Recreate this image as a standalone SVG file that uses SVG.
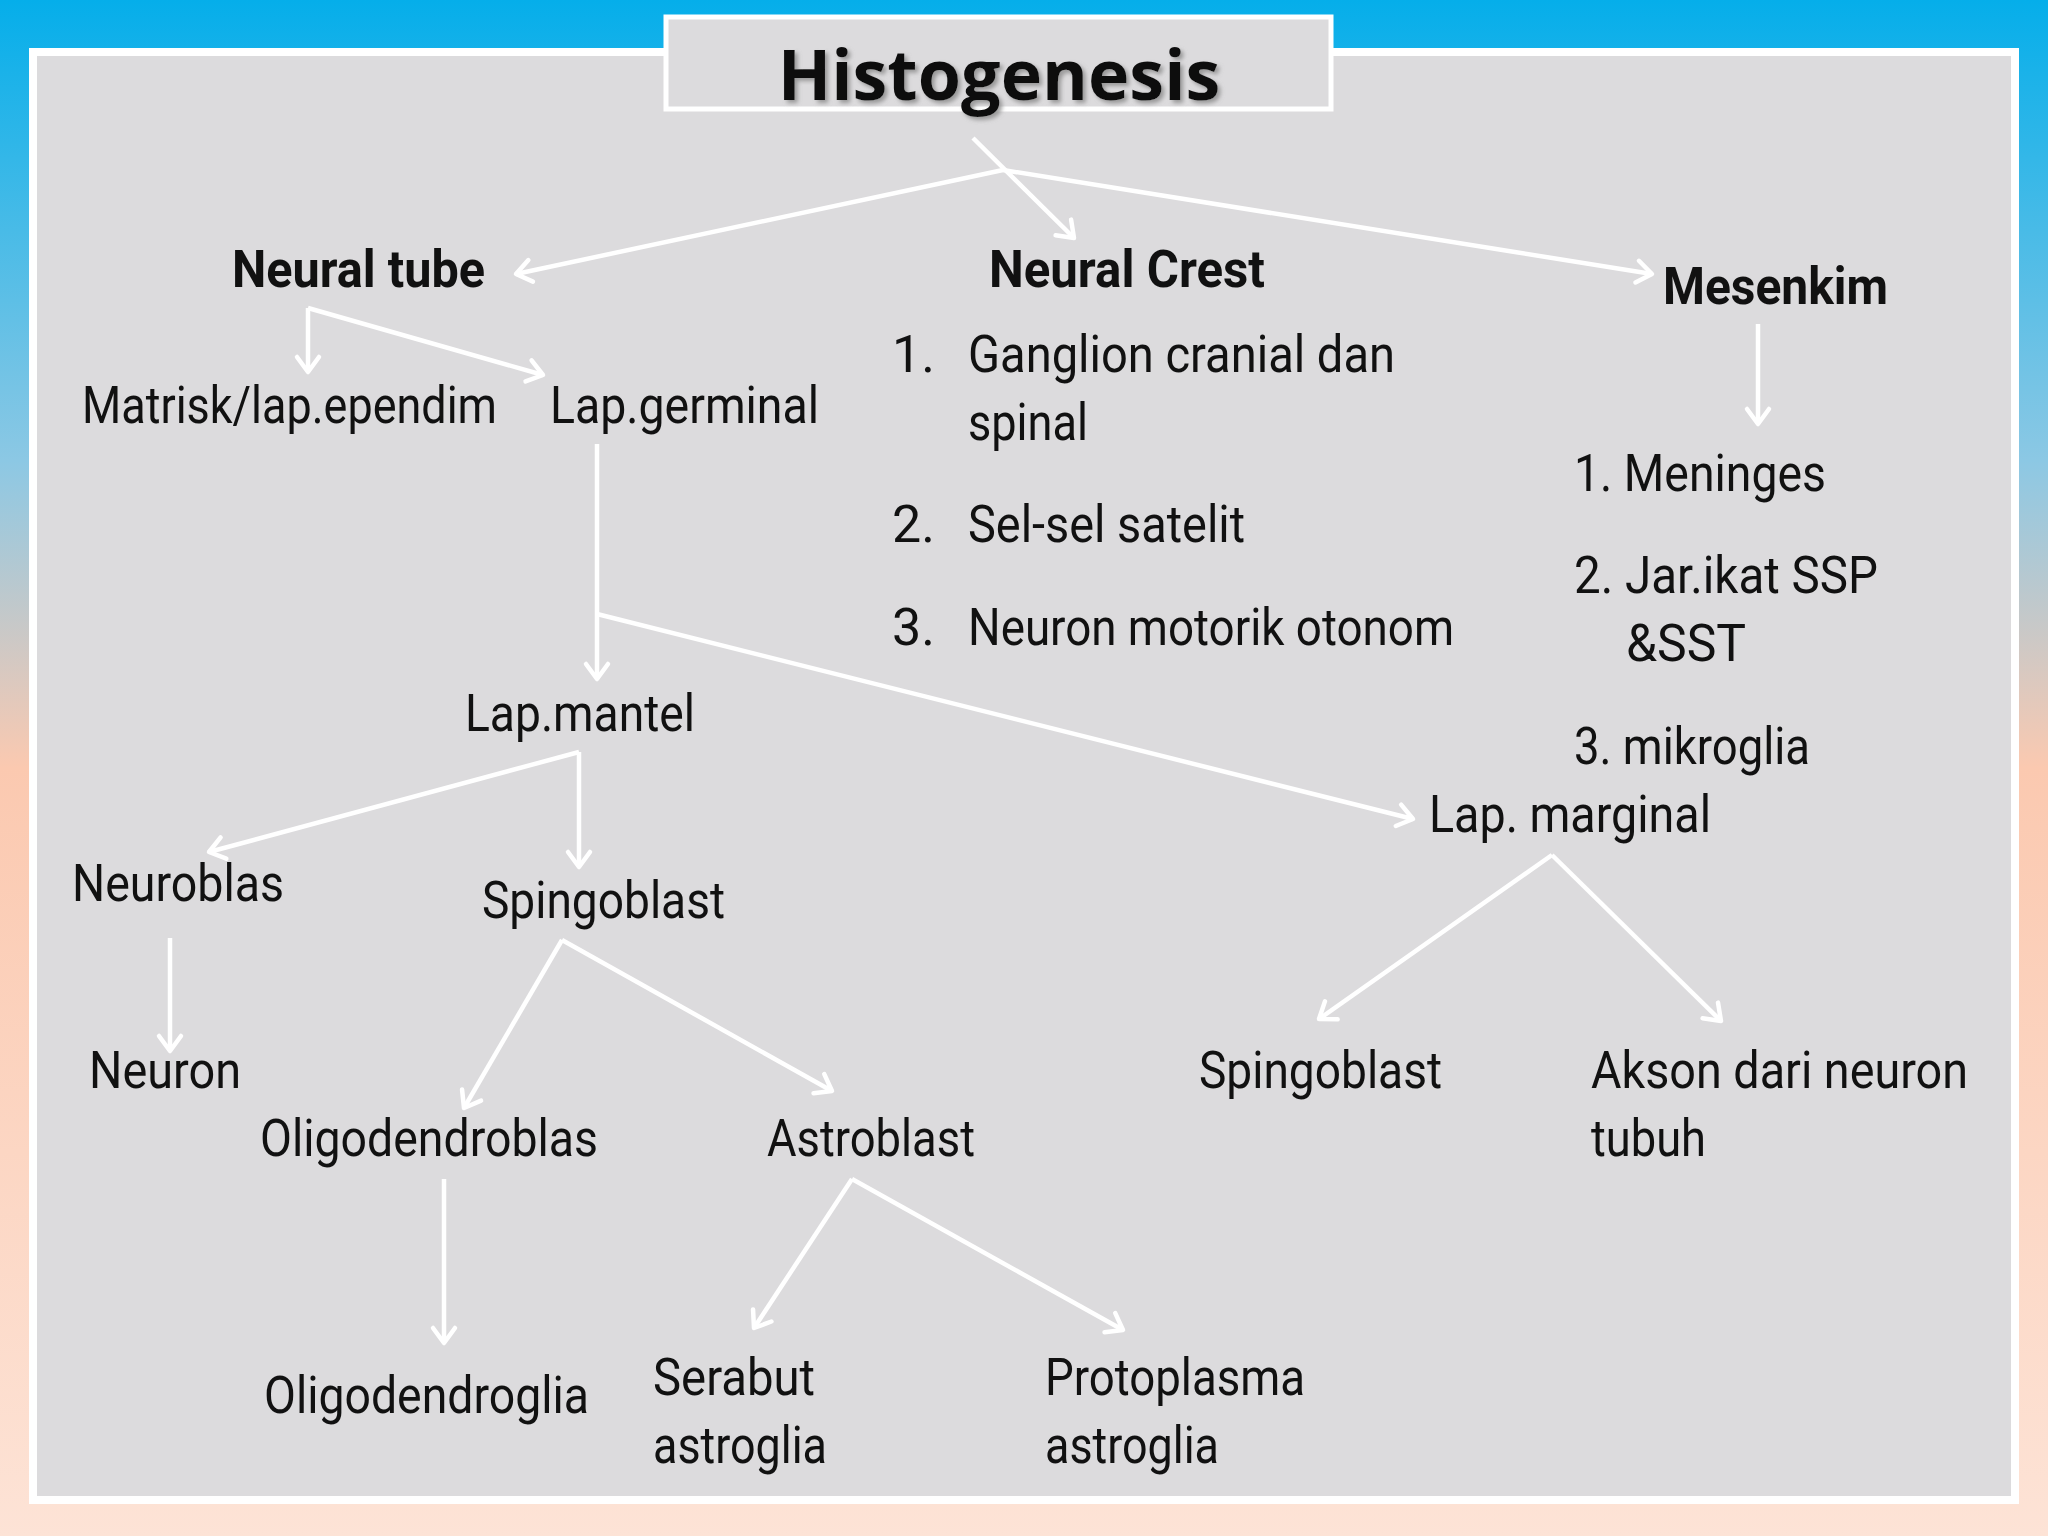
<svg xmlns="http://www.w3.org/2000/svg" width="2048" height="1536" viewBox="0 0 2048 1536">
<defs>
<linearGradient id="bg" x1="0" y1="0" x2="0" y2="1">
<stop offset="0" stop-color="#05aeea"/><stop offset="0.3" stop-color="#8cc8e4"/><stop offset="0.5" stop-color="#fbc9b0"/><stop offset="1" stop-color="#fde3d6"/>
</linearGradient>
<marker id="ah" markerUnits="userSpaceOnUse" markerWidth="40" markerHeight="40" viewBox="-20 -20 40 40" refX="0" refY="0" orient="auto">
<path d="M-15,-11 L0,0 L-15,11" fill="none" stroke="#fff" stroke-width="4.5" stroke-linecap="round" stroke-linejoin="round"/>
</marker>
<filter id="sh"><feDropShadow dx="3" dy="3" stdDeviation="2" flood-color="#888" flood-opacity="0.8"/></filter>
</defs>
<style>
text{font-family:"Roboto","Liberation Sans",sans-serif;font-size:52px;fill:#111}
.b{font-weight:bold}
#connectors line{stroke:#fff;stroke-width:4.5;marker-end:url(#ah)}
#connectors line.n{marker-end:none}
</style>
<rect width="2048" height="1536" fill="url(#bg)"/>
<rect x="33" y="52" width="1982" height="1448" fill="#dcdbdd" stroke="#fff" stroke-width="8"/>
<g id="title">
<rect x="666" y="17" width="665" height="92" fill="#dcdbdd" stroke="#fff" stroke-width="5"/>
<text x="999" y="100" text-anchor="middle" style="font-family:'Open Sans','Liberation Sans',sans-serif;font-size:70px;font-weight:bold" filter="url(#sh)">Histogenesis</text>
</g>
<g id="connectors">
<line x1="973" y1="138" x2="1074" y2="238"/>
<line x1="1003" y1="170" x2="516" y2="274"/>
<line x1="1003" y1="170" x2="1652" y2="274"/>
<line x1="308" y1="308" x2="308" y2="372"/>
<line x1="308" y1="308" x2="543" y2="375"/>
<line x1="1758" y1="324" x2="1758" y2="424"/>
<line x1="597" y1="444" x2="597" y2="679"/>
<line x1="597" y1="614" x2="1413" y2="819"/>
<line x1="579" y1="752" x2="209" y2="852"/>
<line x1="579" y1="752" x2="579" y2="867"/>
<line x1="170" y1="938" x2="170" y2="1051"/>
<line x1="562" y1="940" x2="464" y2="1108"/>
<line x1="562" y1="940" x2="832" y2="1091"/>
<line x1="1552" y1="855" x2="1319" y2="1019"/>
<line x1="1552" y1="855" x2="1721" y2="1021"/>
<line x1="444" y1="1179" x2="444" y2="1343"/>
<line x1="852" y1="1179" x2="754" y2="1328"/>
<line x1="852" y1="1179" x2="1123" y2="1330"/>
</g>
<g id="neural-tube"><text class="b" x="232" y="287" textLength="253" lengthAdjust="spacingAndGlyphs">Neural tube</text></g>
<g id="neural-crest">
<text class="b" x="989" y="287" textLength="276" lengthAdjust="spacingAndGlyphs">Neural Crest</text>
<text x="892" y="372">1.</text><text x="968" y="372" textLength="427" lengthAdjust="spacingAndGlyphs">Ganglion cranial dan</text>
<text x="968" y="440" textLength="120" lengthAdjust="spacingAndGlyphs">spinal</text>
<text x="892" y="542">2.</text><text x="968" y="542" textLength="277" lengthAdjust="spacingAndGlyphs">Sel-sel satelit</text>
<text x="892" y="645">3.</text><text x="968" y="645" textLength="486" lengthAdjust="spacingAndGlyphs">Neuron motorik otonom</text>
</g>
<g id="mesenkim">
<text class="b" x="1663" y="304" textLength="225" lengthAdjust="spacingAndGlyphs">Mesenkim</text>
<text x="1574" y="491" textLength="252" lengthAdjust="spacingAndGlyphs">1. Meninges</text>
<text x="1574" y="593" textLength="304" lengthAdjust="spacingAndGlyphs">2. Jar.ikat SSP</text>
<text x="1626" y="661" textLength="120" lengthAdjust="spacingAndGlyphs">&amp;SST</text>
<text x="1574" y="764" textLength="236" lengthAdjust="spacingAndGlyphs">3. mikroglia</text>
</g>
<g id="matrisk"><text x="82" y="423" textLength="415" lengthAdjust="spacingAndGlyphs">Matrisk/lap.ependim</text></g>
<g id="lap-germinal"><text x="550" y="423" textLength="269" lengthAdjust="spacingAndGlyphs">Lap.germinal</text></g>
<g id="lap-mantel"><text x="465" y="731" textLength="230" lengthAdjust="spacingAndGlyphs">Lap.mantel</text></g>
<g id="lap-marginal"><text x="1429" y="832" textLength="282" lengthAdjust="spacingAndGlyphs">Lap. marginal</text></g>
<g id="neuroblas"><text x="72" y="901" textLength="212" lengthAdjust="spacingAndGlyphs">Neuroblas</text></g>
<g id="spingoblast1"><text x="482" y="918" textLength="243" lengthAdjust="spacingAndGlyphs">Spingoblast</text></g>
<g id="neuron"><text x="89" y="1088" textLength="152" lengthAdjust="spacingAndGlyphs">Neuron</text></g>
<g id="spingoblast2"><text x="1199" y="1088" textLength="243" lengthAdjust="spacingAndGlyphs">Spingoblast</text></g>
<g id="akson"><text x="1591" y="1088" textLength="377" lengthAdjust="spacingAndGlyphs">Akson dari neuron</text><text x="1591" y="1156" textLength="115" lengthAdjust="spacingAndGlyphs">tubuh</text></g>
<g id="oligodendroblas"><text x="260" y="1156" textLength="338" lengthAdjust="spacingAndGlyphs">Oligodendroblas</text></g>
<g id="astroblast"><text x="767" y="1156" textLength="208" lengthAdjust="spacingAndGlyphs">Astroblast</text></g>
<g id="oligodendroglia"><text x="264" y="1413" textLength="325" lengthAdjust="spacingAndGlyphs">Oligodendroglia</text></g>
<g id="serabut"><text x="653" y="1395" textLength="162" lengthAdjust="spacingAndGlyphs">Serabut</text><text x="653" y="1463" textLength="174" lengthAdjust="spacingAndGlyphs">astroglia</text></g>
<g id="protoplasma"><text x="1045" y="1395" textLength="260" lengthAdjust="spacingAndGlyphs">Protoplasma</text><text x="1045" y="1463" textLength="174" lengthAdjust="spacingAndGlyphs">astroglia</text></g>
</svg>
